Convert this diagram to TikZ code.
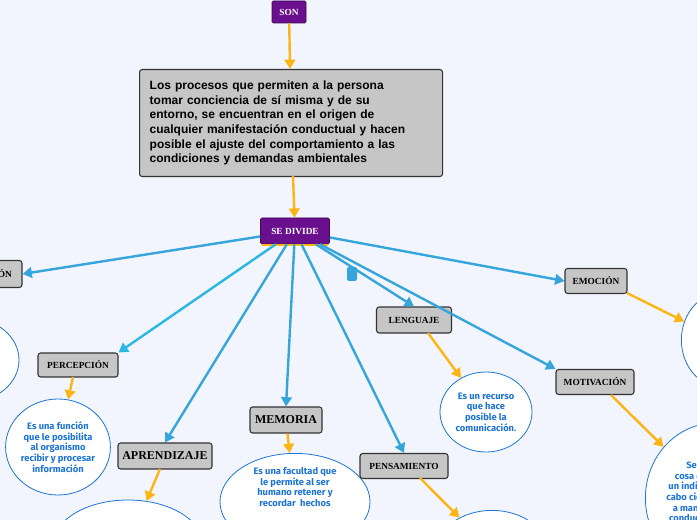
\documentclass[tikz,border=0pt]{standalone}
\usepackage{fontspec}
\setmainfont{Liberation Serif}
\newfontfamily\elfont{Fira Sans}
\newfontfamily\mainfont{Liberation Sans}
\usetikzlibrary{shapes.geometric,arrows.meta}
\definecolor{bg}{HTML}{F2F5FE}
\definecolor{purp}{HTML}{6A0F8E}
\definecolor{gbox}{HTML}{C6C6C6}
\definecolor{blu}{HTML}{36A5DC}
\definecolor{ora}{HTML}{FDB515}
\definecolor{etxt}{HTML}{1C74D6}
\begin{document}
\begin{tikzpicture}[x=0.75pt,y=-0.75pt,
  topic/.style={draw=black!80,fill=gbox,rounded corners=2pt,line width=0.8pt,font=\bfseries\scriptsize,inner sep=0pt},
  pbox/.style={fill=purp,draw=purp!60!black,rounded corners=1pt,text=white,font=\bfseries\scriptsize,inner sep=0pt},
  ell/.style={ellipse,draw=etxt,fill=white,line width=0.6pt,align=center,text=etxt,font=\elfont\scriptsize\bfseries,inner sep=0pt},
  barr/.style={blu,line width=1.8pt,-{Triangle[length=7pt,width=8pt]}},
  oarr/.style={ora,line width=1.8pt,-{Triangle[length=7pt,width=8pt]}},
  sz/.style n args={2}{minimum width={#1*0.75pt},minimum height={#2*0.75pt}}]
\fill[bg] (0,0) rectangle (697,520);
\useasboundingbox (0,0) rectangle (697,520);
\node[pbox,sz={34}{22}] (son) at (289,12) {SON};
\node[topic,sz={303}{107},align=left,text width=212pt,inner xsep=6pt,font=\mainfont\bfseries\small,anchor=north west] (main) at (139,69)
 {Los procesos que permiten a la persona\\tomar conciencia de sí misma y de su\\entorno, se encuentran en el origen de\\cualquier manifestación conductual y hacen\\posible el ajuste del comportamiento a las\\condiciones y demandas ambientales};
\node[pbox,sz={69}{26}] (div) at (295,231) {SE DIVIDE};
\draw[ora,line width=1.5pt] (262,245) -- (328,245);
\node[topic,sz={70}{27}] (ate) at (-13,274) {ATENCIÓN};
\node[ell,sz={100}{84}] (ate2) at (-31,360) {};
\node[topic,sz={80}{24}] (per) at (78,365) {PERCEPCIÓN};
\node[ell,sz={104}{96}] (per2) at (58,447) {Es una función\\que le posibilita\\al organismo\\recibir y procesar\\información};
\node[topic,sz={94}{26},font=\bfseries\small] (apr) at (165,456) {APRENDIZAJE};
\node[ell,sz={150}{90}] (apr2) at (128,545) {};
\node[topic,sz={72}{26},font=\bfseries\small] (mem) at (286,420) {MEMORIA};
\node[ell,sz={150}{96},anchor=north] (mem2) at (295,453) {Es una facultad que\\le permite al ser\\humano retener y\\recordar \ hechos\\[14pt]};
\node[topic,sz={88}{25}] (pen) at (404,466) {PENSAMIENTO};
\node[ell,sz={110}{80},anchor=north] (pen2) at (492,510) {};
\node[topic,sz={75}{26}] (len) at (414,320) {LENGUAJE};
\node[ell,sz={92}{80}] (len2) at (486,412) {Es un recurso\\que hace\\posible la\\comunicación.};
\node[topic,sz={62}{25}] (emo) at (596,281) {EMOCIÓN};
\node[ell,sz={80}{94},anchor=west] (emo2) at (681,340) {};
\node[topic,sz={78}{25}] (mot) at (595,382) {MOTIVACIÓN};
\node[ell,sz={140}{150},anchor=west] (mot2) at (645,498) {Se refiere a la\\cosa que impulsa a\\un individuo a llevar a\\cabo ciertas acciones y\\a mantener firme su\\conducta hasta lograr\\el objetivo};
\draw[oarr] (son) -- (main);
\draw[oarr] (293,176) -- (div);
\draw[barr] (div) -- (ate.east);
\draw[barr,blu!80!cyan] (div) -- (per.north east);
\draw[barr] (div) -- (apr.north);
\draw[barr] (div) -- (mem.north);
\draw[barr] (div) -- (pen.north);
\draw[barr] (div) -- (len.north);
\draw[barr] (div) -- (emo.west);
\draw[barr] (div) -- (mot.north west);
\node[fill=blu,rounded corners=1.5pt,sz={10}{14},inner sep=0pt] (mk) at (352,274) {};
\draw[oarr] (73,377) -- (per2);
\draw[oarr] (160,469) -- (apr2);
\draw[oarr] (mem) -- (mem2);
\draw[oarr] (428,333) -- (len2);
\draw[oarr] (420,478) -- (pen2);
\draw[oarr] (627,293) -- (emo2);
\draw[oarr] (611,395) -- (mot2);
\end{tikzpicture}
\end{document}
